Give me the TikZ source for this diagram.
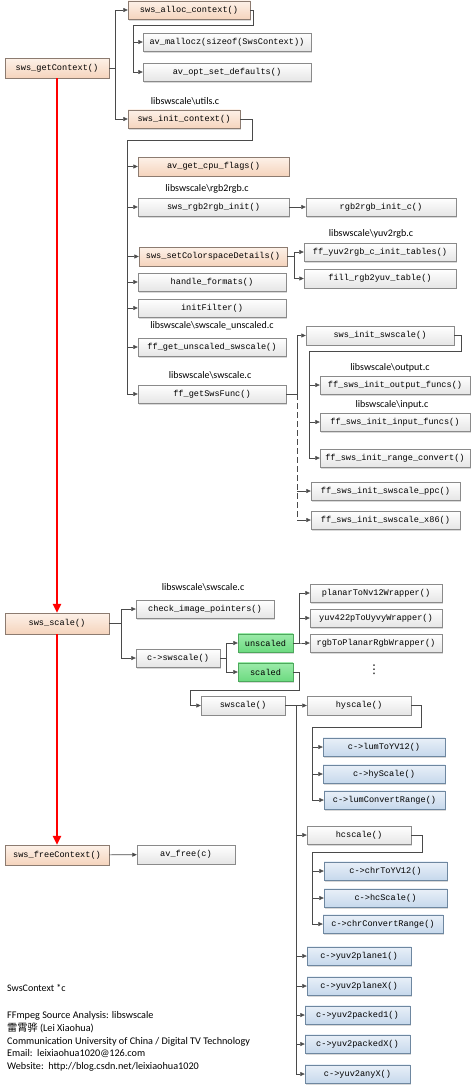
\documentclass[tikz,border=0pt]{standalone}
\usepackage{fontspec}
\setmainfont{Carlito}
\newfontfamily\codefont{Liberation Mono}
\newfontfamily\cjk{Noto Sans CJK SC}
\newfontfamily\symfont{DejaVu Sans}
\usetikzlibrary{arrows.meta,shadows}
\definecolor{ortop}{HTML}{FDF1E8}
\definecolor{orbot}{HTML}{F5D4BD}
\definecolor{orline}{HTML}{8C7B70}
\definecolor{grtop}{HTML}{9CEBAA}
\definecolor{grbot}{HTML}{6CDA80}
\definecolor{grline}{HTML}{4DA85C}
\definecolor{butop}{HTML}{E9F0F8}
\definecolor{bubot}{HTML}{C6D8EC}
\definecolor{buline}{HTML}{6E87A0}
\definecolor{boxline}{HTML}{8A8A8A}
\definecolor{lk}{HTML}{4A4A4A}
\begin{document}
\begin{tikzpicture}[x=1pt,y=-1pt,>={Triangle[length=4.5pt,width=4pt]},
 b/.style={draw=boxline,top color=white,bottom color=black!10,minimum height=18.5pt,inner sep=0pt,font=\codefont\fontsize{8.6}{10}\selectfont,drop shadow={shadow xshift=1.3pt,shadow yshift=-1.3pt,opacity=.3}},
 bo/.style={b,draw=orline,top color=ortop,bottom color=orbot},
 bg/.style={b,draw=grline,top color=grtop,bottom color=grbot},
 bu/.style={b,draw=buline,top color=butop,bottom color=bubot},
 lab/.style={inner sep=0pt,font=\fontsize{10}{12}\selectfont},
 ln/.style={draw=lk,line width=.6pt,->}]
\useasboundingbox (0,0) rectangle (474,1087);
\node[bo,minimum width=104,minimum height=20] (getctx) at (57,68) {sws\_getContext()};
\node[bo,minimum width=122] (alloc) at (189,10) {sws\_alloc\_context()};
\node[b,minimum width=168] (mallocz) at (227,42) {av\_mallocz(sizeof(SwsContext))};
\node[b,minimum width=168] (optdef) at (227,72) {av\_opt\_set\_defaults()};
\node[lab] (lutils) at (185,101) {libswscale\textbackslash utils.c};
\node[bo,minimum width=112] (initctx) at (184,119) {sws\_init\_context()};
\node[bo,minimum width=151] (cpu) at (213.5,166.5) {av\_get\_cpu\_flags()};
\node[lab] (lrgb) at (207,189) {libswscale\textbackslash rgb2rgb.c};
\node[b,minimum width=151] (rgbinit) at (213.5,207) {sws\_rgb2rgb\_init()};
\node[b,minimum width=150] (rgbinitc) at (381,207) {rgb2rgb\_init\_c()};
\node[lab] (lyuv) at (371,234) {libswscale\textbackslash yuv2rgb.c};
\node[bo,minimum width=148] (colorsp) at (213,256.5) {sws\_setColorspaceDetails()};
\node[b,minimum width=152] (yuvtab) at (380,252) {ff\_yuv2rgb\_c\_init\_tables()};
\node[b,minimum width=152] (filltab) at (380,278.5) {fill\_rgb2yuv\_table()};
\node[b,minimum width=148] (handle) at (212,282) {handle\_formats()};
\node[b,minimum width=148] (initfilt) at (212,308) {initFilter()};
\node[lab] (lunsc) at (212,326) {libswscale\textbackslash swscale\_unscaled.c};
\node[b,minimum width=148] (getunsc) at (212,347) {ff\_get\_unscaled\_swscale()};
\node[lab] (lsws) at (210,375) {libswscale\textbackslash swscale.c};
\node[b,minimum width=148] (getsws) at (212,394) {ff\_getSwsFunc()};
\node[b,minimum width=148] (initsws) at (380,335.5) {sws\_init\_swscale()};
\node[lab] (lout) at (390,368) {libswscale\textbackslash output.c};
\node[b,minimum width=150] (outfn) at (395,385) {ff\_sws\_init\_output\_funcs()};
\node[lab] (lin) at (392,405) {libswscale\textbackslash input.c};
\node[b,minimum width=150] (infn) at (395,422) {ff\_sws\_init\_input\_funcs()};
\node[b,minimum width=150] (range) at (395,458) {ff\_sws\_init\_range\_convert()};
\node[b,minimum width=149] (ppc) at (385.5,491) {ff\_sws\_init\_swscale\_ppc()};
\node[b,minimum width=149] (x86) at (385.5,520) {ff\_sws\_init\_swscale\_x86()};
\node[bo,minimum width=104,minimum height=21] (scale) at (57,623.5) {sws\_scale()};
\node[lab] (lsws2) at (203,587) {libswscale\textbackslash swscale.c};
\node[b,minimum width=138] (check) at (205,609) {check\_image\_pointers()};
\node[b,minimum width=84] (cswscale) at (178,658) {c->swscale()};
\node[bg,minimum width=55] (unsc) at (265.5,643) {unscaled};
\node[bg,minimum width=55] (scaled) at (265.5,672) {scaled};
\node[b,minimum width=132] (nv12) at (376,593) {planarToNv12Wrapper()};
\node[b,minimum width=132] (uyvy) at (376,618) {yuv422pToUyvyWrapper()};
\node[b,minimum width=132] (planar) at (376,643) {rgbToPlanarRgbWrapper()};
\node[inner sep=0pt,font=\symfont\fontsize{12}{14}\selectfont] (dots) at (374,670) {⋮};
\node[b,minimum width=84] (swsc) at (243,705.5) {swscale()};
\node[b,minimum width=104] (hyscale) at (359,705.5) {hyscale()};
\node[bu,minimum width=122] (lumyv) at (384,747) {c->lumToYV12()};
\node[bu,minimum width=122] (hysc) at (384,774) {c->hyScale()};
\node[bu,minimum width=121] (lumconv) at (384.5,800) {c->lumConvertRange()};
\node[b,minimum width=104] (hcscale) at (359,835) {hcscale()};
\node[bu,minimum width=123] (chryv) at (385.5,871) {c->chrToYV12()};
\node[bu,minimum width=123] (hcsc) at (385.5,898) {c->hcScale()};
\node[bu,minimum width=120] (chrconv) at (383,924) {c->chrConvertRange()};
\node[bu,minimum width=104] (p1) at (359,956) {c->yuv2plane1()};
\node[bu,minimum width=104] (pX) at (359,986) {c->yuv2planeX()};
\node[bu,minimum width=105] (pk1) at (357.5,1015) {c->yuv2packed1()};
\node[bu,minimum width=105] (pkX) at (357.5,1044) {c->yuv2packedX()};
\node[bu,minimum width=105] (any) at (357.5,1074) {c->yuv2anyX()};
\node[bo,minimum width=104,minimum height=20] (free) at (57,855) {sws\_freeContext()};
\node[b,minimum width=98] (avfree) at (186,854.5) {av\_free(c)};
\node[lab,anchor=west] (ctxvar) at (7,988) {SwsContext *c};
\node[lab,anchor=north west,align=left,font=\fontsize{10.2}{12.9}\selectfont] (credit) at (7,1011) {FFmpeg Source Analysis: libswscale\\{\cjk 雷霄骅} (Lei Xiaohua)\\Communication University of China / Digital TV Technology\\Email:\ \ leixiaohua1020@126.com\\Website:\ \ http://blog.csdn.net/leixiaohua1020};
\draw[red,line width=2.2pt,-{Triangle[length=9pt,width=8pt]}] (getctx.south) -- (scale.north);
\draw[red,line width=2.2pt,-{Triangle[length=9pt,width=8pt]}] (scale.south) -- (free.north);
\draw[ln] (getctx.east) -- ++(6,0) |- (alloc.west);
\draw[ln] (getctx.east) -- ++(6,0) |- (initctx.west);
\coordinate (ab) at (133,25);
\draw[ln] (alloc.east) -- ++(3,0) |- (ab) |- (optdef.west);
\draw[ln] (ab) |- (mallocz.west);
\coordinate (ib) at (127,140);
\draw[ln] (initctx.east) -- ++(12,0) |- (ib) |- (getsws.west);
\foreach \n in {cpu,rgbinit,colorsp,handle,initfilt,getunsc} \draw[ln] (ib) |- (\n.west);
\draw[ln] (rgbinit) -- (rgbinitc);
\draw[ln] (colorsp.east) -- ++(7,0) |- (yuvtab.west);
\draw[ln] (colorsp.east) -- ++(7,0) |- (filltab.west);
\coordinate (gs) at (297,394);
\draw[ln] (getsws.east) -- (gs) |- (initsws.west);
\draw[draw=lk,line width=.6pt,dash pattern=on 6pt off 3pt] (gs) -- (gs |- x86.west);
\draw[ln] (gs |- ppc.west) -- (ppc.west);
\draw[ln] (gs |- x86.west) -- (x86.west);
\coordinate (sb) at (309,351);
\draw[ln] (initsws.east) -- ++(7,0) |- (sb) |- (range.west);
\foreach \n in {outfn,infn} \draw[ln] (sb) |- (\n.west);
\draw[ln] (scale.east) -- ++(12,0) |- (check.west);
\draw[ln] (scale.east) -- ++(12,0) |- (cswscale.west);
\draw[ln] (cswscale.east) -- ++(6,0) |- (unsc.west);
\draw[ln] (cswscale.east) -- ++(6,0) |- (scaled.west);
\foreach \n in {nv12,uyvy,planar} \draw[ln] (unsc.east) -- ++(6,0) |- (\n.west);
\coordinate (scb) at (190,690);
\draw[ln] (scaled.east) -- ++(6,0) |- (scb) |- (swsc.west);
\coordinate (sw) at (296,705.5);
\draw[ln] (swsc.east) -- (sw) |- (any.west);
\foreach \n in {hyscale,hcscale,p1,pX,pk1,pkX} \draw[ln] (sw) |- (\n.west);
\coordinate (hb) at (312,727);
\draw[ln] (hyscale.east) -- ++(10,0) |- (hb) |- (lumconv.west);
\foreach \n in {lumyv,hysc} \draw[ln] (hb) |- (\n.west);
\coordinate (hcb) at (312,852);
\draw[ln] (hcscale.east) -- ++(11,0) |- (hcb) |- (chrconv.west);
\foreach \n in {chryv,hcsc} \draw[ln] (hcb) |- (\n.west);
\draw[ln] (free) -- (avfree);
\end{tikzpicture}
\end{document}
